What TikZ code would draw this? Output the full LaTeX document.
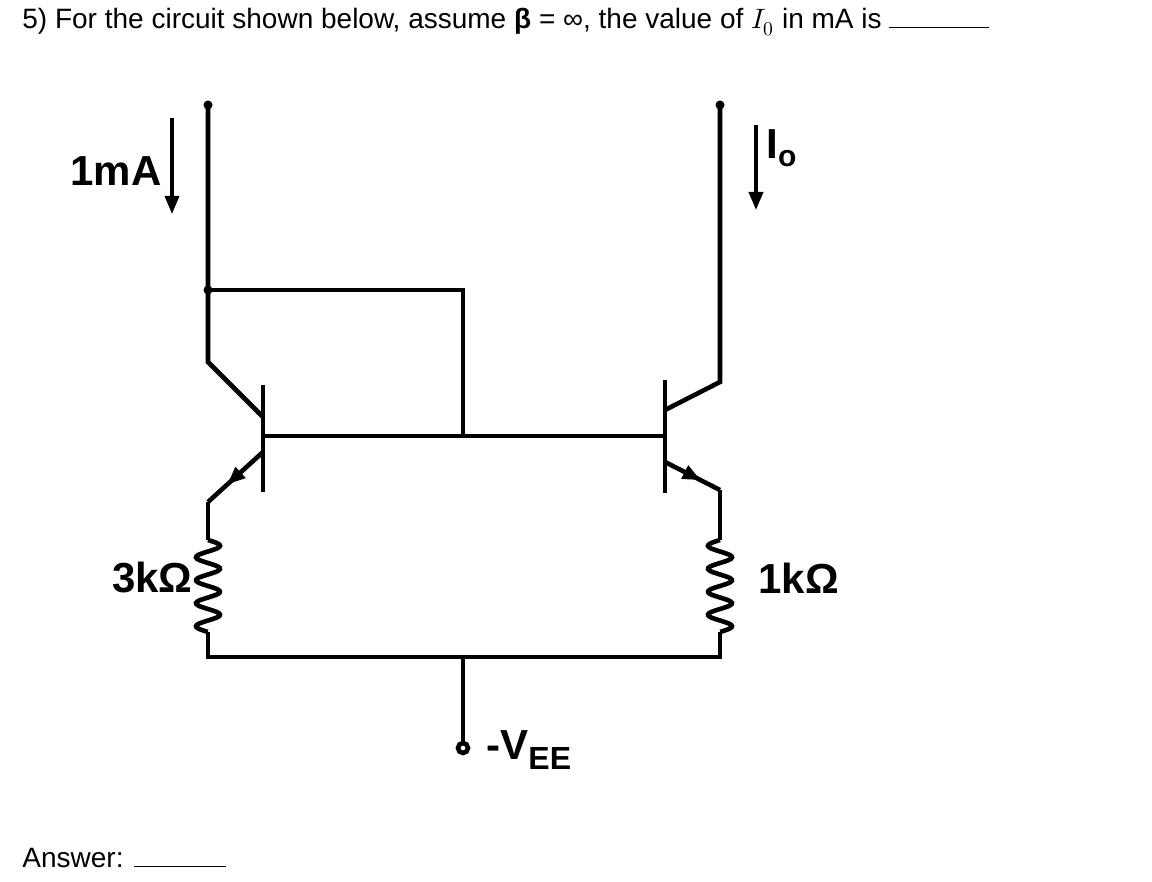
\documentclass[tikz,border=0pt]{standalone}
\usepackage{fontspec}
\setmainfont{Liberation Sans}
\usepackage{unicode-math}
\usetikzlibrary{arrows.meta,decorations.markings}
\begin{document}
\begin{tikzpicture}[x=0.5pt,y=-0.5pt,
  wire/.style={line width=2.3pt},
  lbl/.style={font=\bfseries\fontsize{21}{24}\selectfont,inner sep=0pt},
  txt/.style={font=\fontsize{14}{16}\selectfont,inner sep=0pt,anchor=west},
  arr/.style={line width=1.8pt,-{Triangle[length=9pt,width=7pt]}},
  emit/.style={wire,postaction={decorate},decoration={markings,mark=at position 0.65 with {\arrow{Triangle[length=9pt,width=7pt]}}}}]
\useasboundingbox (0,0) rectangle (1152,882);
% coordinates
\coordinate (t1) at (208,105); \coordinate (t2) at (720,105);
\coordinate (j1) at (208,290); \coordinate (j2) at (463,290);
\coordinate (c1) at (208,362); \coordinate (c1b) at (263,417);
\coordinate (e1b) at (263,452); \coordinate (e1) at (208,502);
\coordinate (r1t) at (208,540); \coordinate (r1b) at (208,632);
\coordinate (bl) at (208,657); \coordinate (br) at (720,657); \coordinate (bm) at (463,657);
\coordinate (b1) at (263,436); \coordinate (b2) at (665,436); \coordinate (bj) at (463,436);
\coordinate (c2) at (720,382); \coordinate (c2b) at (665,410);
\coordinate (e2b) at (665,462); \coordinate (e2) at (720,490);
\coordinate (r2t) at (720,540); \coordinate (r2b) at (720,632);
\coordinate (vee) at (463,743);
% wires
\draw[wire] (t1) -- (c1) -- (c1b);
\draw[wire] (263,385) -- (263,492);
\draw[emit] (e1b) -- (e1);
\draw[wire] (e1) -- (r1t);
\draw[wire] plot[domain=0:1,samples=80] ({208+12*sin(\x*4*360)},{540+92*\x});
\draw[wire] (r1b) -- (bl) -- (br) -- (r2b);
\draw[wire] plot[domain=0:1,samples=80] ({720-12*sin(\x*4*360)},{540+92*\x});
\draw[wire] (r2t) -- (e2);
\draw[emit] (e2b) -- (e2);
\draw[wire] (665,380) -- (665,493);
\draw[wire] (c2b) -- (c2) -- (t2);
\draw[wire] (j1) -- (j2) -- (bj);
\draw[wire] (b1) -- (b2);
\draw[wire] (bm) -- (vee);
\draw[wire,fill=white] (463,748) circle (5);
\fill (t1) circle (4.5); \fill (t2) circle (4.5); \fill (j1) circle (4.5);
% current arrows
\coordinate (a1s) at (172,118); \coordinate (a1e) at (172,214);
\draw[arr] (a1s) -- (a1e);
\coordinate (a2s) at (756,125); \coordinate (a2e) at (756,210);
\draw[arr] (a2s) -- (a2e);
% labels
\node[lbl,anchor=east] (l1) at (162,171) {1mA};
\node[lbl,anchor=west] (l2) at (766,148) {I\raisebox{-0.35ex}{\fontsize{15}{16}\selectfont o}};
\node[lbl,anchor=east] (l3) at (193,578) {3kΩ};
\node[lbl,anchor=west] (l4) at (758,578) {1kΩ};
\node[lbl,anchor=west] (l5) at (486,750) {-V\raisebox{-0.45ex}{\fontsize{16}{17}\selectfont EE}};
\node[txt] (title) at (22,22) {5) For the circuit shown below, assume \textbf{β} = ∞, the value of $I_0$ in mA is \rule{50pt}{0.8pt}};
\node[txt] (ans) at (22,858) {Answer: \rule{46pt}{0.8pt}};
\end{tikzpicture}
\end{document}
